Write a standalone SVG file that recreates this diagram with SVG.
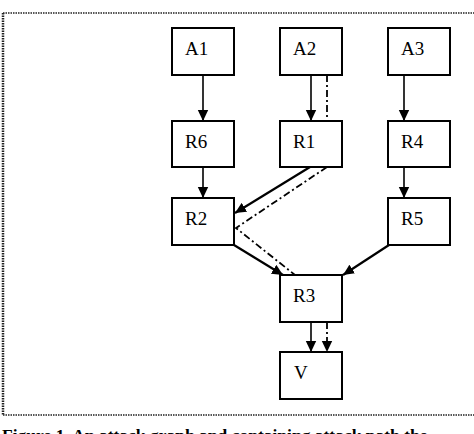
<svg xmlns="http://www.w3.org/2000/svg" width="474" height="434" viewBox="0 0 474 434">
<defs>
<marker id="ah" markerUnits="userSpaceOnUse" markerWidth="12" markerHeight="12" viewBox="0 0 12 12" refX="11" refY="6" orient="auto">
<path d="M0,0.8 L11,6 L0,11.2 Z" fill="#000"/>
</marker>
<style>
.box{fill:#fff;stroke:#000;stroke-width:2}
.lbl{font-family:"Liberation Serif","Times New Roman",serif;font-size:19px;fill:#000}
.sol{stroke:#000;stroke-width:1.6;fill:none}
.thick{stroke:#000;stroke-width:2.2;fill:none}
.dd{stroke:#000;stroke-width:1.8;fill:none;stroke-dasharray:7 3 2 3}
.frame{stroke:#222;fill:none;stroke-dasharray:1.5 1}
.cap{font-family:"Liberation Serif","Times New Roman",serif;font-size:17.5px;font-weight:bold;fill:#000}
</style>
</defs>
<rect width="474" height="434" fill="#fff"/>
<g id="frame">
<path class="frame" d="M3,13 H476" stroke-width="1.5"/>
<path class="frame" d="M3,415 H476" stroke-width="1.5"/>
<path class="frame" d="M3,13 V415" stroke-width="2.5"/>
</g>
<g id="connectors">
<line class="sol" x1="203" y1="75" x2="203" y2="121" marker-end="url(#ah)"/>
<line class="sol" x1="311" y1="75" x2="311" y2="121" marker-end="url(#ah)"/>
<line class="dd" x1="327" y1="75" x2="327" y2="121"/>
<line class="sol" x1="404" y1="75" x2="404" y2="121" marker-end="url(#ah)"/>
<line class="sol" x1="203" y1="167" x2="203" y2="198" marker-end="url(#ah)"/>
<line class="sol" x1="404" y1="167" x2="404" y2="198" marker-end="url(#ah)"/>
<line class="thick" x1="310" y1="167" x2="235" y2="213" marker-end="url(#ah)"/>
<polyline class="dd" points="327,167 236,228 295,275"/>
<line class="thick" x1="234" y1="245" x2="283" y2="275" marker-end="url(#ah)"/>
<line class="thick" x1="389" y1="245" x2="343" y2="275" marker-end="url(#ah)"/>
<line class="sol" x1="311" y1="322" x2="311" y2="352" marker-end="url(#ah)"/>
<line class="dd" x1="327" y1="322" x2="327" y2="352" marker-end="url(#ah)"/>
</g>
<g id="A1"><rect class="box" x="172" y="28" width="62" height="47"/><text class="lbl" x="185" y="55">A1</text></g>
<g id="A2"><rect class="box" x="280" y="28" width="62" height="47"/><text class="lbl" x="293" y="55">A2</text></g>
<g id="A3"><rect class="box" x="388" y="28" width="62" height="47"/><text class="lbl" x="401" y="55">A3</text></g>
<g id="R6"><rect class="box" x="172" y="121" width="62" height="46"/><text class="lbl" x="185" y="148">R6</text></g>
<g id="R1"><rect class="box" x="280" y="121" width="62" height="46"/><text class="lbl" x="293" y="148">R1</text></g>
<g id="R4"><rect class="box" x="388" y="121" width="62" height="46"/><text class="lbl" x="401" y="148">R4</text></g>
<g id="R2"><rect class="box" x="172" y="198" width="62" height="47"/><text class="lbl" x="185" y="225">R2</text></g>
<g id="R5"><rect class="box" x="388" y="198" width="62" height="47"/><text class="lbl" x="401" y="225">R5</text></g>
<g id="R3"><rect class="box" x="280" y="275" width="62" height="47"/><text class="lbl" x="293" y="302">R3</text></g>
<g id="V"><rect class="box" x="280" y="352" width="62" height="47"/><text class="lbl" x="294" y="379">V</text></g>
<text class="cap" x="2" y="441">Figure 1. An attack graph and containing attack path the</text>
</svg>
